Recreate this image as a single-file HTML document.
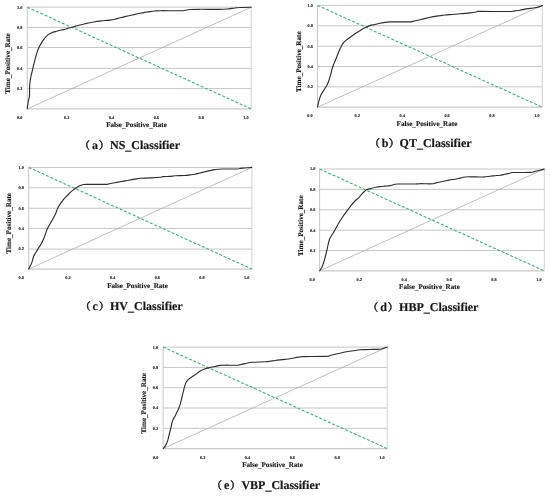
<!DOCTYPE html>
<html><head><meta charset="utf-8"><style>
html,body{margin:0;padding:0;background:#fff;}
svg{display:block;}
text{font-family:"Liberation Serif","Noto Serif CJK SC",serif;font-weight:bold;fill:#1a1a1a;text-rendering:geometricPrecision;}
.tk{font-size:4.3px;text-anchor:middle;fill:#111;stroke:#111;stroke-width:0.08px;}
.at{font-size:7.1px;stroke:#1a1a1a;stroke-width:0.15px;}
.cap{font-size:12px;stroke:#1a1a1a;stroke-width:0.2px;}
.cj{font-family:"Liberation Serif","Noto Serif CJK SC",serif;font-weight:bold;font-size:10.5px;stroke:#1a1a1a;stroke-width:0.35px;}
</style></head><body>
<svg width="550" height="496" viewBox="0 0 550 496">
<rect width="550" height="496" fill="#fff"/>
<line x1="27.3" y1="108.90" x2="251.2" y2="108.90" stroke="#cacaca" stroke-width="1.2"/>
<line x1="27.3" y1="88.60" x2="251.2" y2="88.60" stroke="#c6c6c6" stroke-width="1"/>
<line x1="27.3" y1="68.35" x2="251.2" y2="68.35" stroke="#c6c6c6" stroke-width="1"/>
<line x1="27.3" y1="47.55" x2="251.2" y2="47.55" stroke="#c6c6c6" stroke-width="1"/>
<line x1="27.3" y1="27.40" x2="251.2" y2="27.40" stroke="#c6c6c6" stroke-width="1"/>
<line x1="27.3" y1="7.15" x2="251.2" y2="7.15" stroke="#c6c6c6" stroke-width="1"/>
<line x1="27.3" y1="7.2" x2="27.3" y2="108.9" stroke="#c8c8c8" stroke-width="1"/>
<line x1="251.2" y1="7.2" x2="251.2" y2="108.9" stroke="#d2d2d2" stroke-width="1"/>
<line x1="27.3" y1="108.9" x2="251.2" y2="7.2" stroke="#b0b0b0" stroke-width="0.8"/>
<line x1="27.3" y1="7.2" x2="251.2" y2="108.9" stroke="#36b574" stroke-width="1.1" stroke-dasharray="2.96 1.8"/>
<path d="M27.20,108.70 C27.42,107.33 28.13,102.45 28.50,100.50 C28.87,98.55 29.22,98.25 29.40,97.00 C29.58,95.75 29.58,94.47 29.60,93.00 C29.62,91.53 29.50,89.87 29.55,88.20 C29.60,86.53 29.74,84.57 29.90,83.00 C30.06,81.43 30.28,80.12 30.50,78.80 C30.72,77.48 30.90,76.42 31.20,75.10 C31.50,73.78 31.98,72.22 32.30,70.90 C32.62,69.58 32.75,68.68 33.10,67.20 C33.45,65.72 33.98,63.65 34.40,62.00 C34.82,60.35 35.12,59.03 35.60,57.30 C36.08,55.57 36.68,53.35 37.30,51.60 C37.92,49.85 38.50,48.42 39.30,46.80 C40.10,45.18 41.17,43.38 42.10,41.90 C43.03,40.42 43.97,39.03 44.90,37.90 C45.83,36.77 46.55,35.97 47.70,35.10 C48.85,34.23 50.32,33.33 51.80,32.70 C53.28,32.07 54.98,31.75 56.60,31.30 C58.22,30.85 60.10,30.35 61.50,30.00 C62.90,29.65 63.58,29.58 65.00,29.20 C66.42,28.82 68.33,28.17 70.00,27.70 C71.67,27.23 73.33,26.85 75.00,26.40 C76.67,25.95 78.33,25.43 80.00,25.00 C81.67,24.57 83.33,24.18 85.00,23.80 C86.67,23.42 88.33,23.03 90.00,22.70 C91.67,22.37 93.33,22.07 95.00,21.80 C96.67,21.53 98.33,21.32 100.00,21.10 C101.67,20.88 103.33,20.67 105.00,20.50 C106.67,20.33 108.33,20.32 110.00,20.10 C111.67,19.88 113.33,19.58 115.00,19.20 C116.67,18.82 118.33,18.23 120.00,17.80 C121.67,17.37 123.33,16.98 125.00,16.60 C126.67,16.22 128.33,15.87 130.00,15.50 C131.67,15.13 133.33,14.77 135.00,14.40 C136.67,14.03 138.33,13.63 140.00,13.30 C141.67,12.97 143.33,12.68 145.00,12.40 C146.67,12.12 148.33,11.83 150.00,11.60 C151.67,11.37 153.33,11.15 155.00,11.00 C156.67,10.85 155.83,10.75 160.00,10.70 C164.17,10.65 175.83,10.77 180.00,10.70 C184.17,10.63 183.33,10.50 185.00,10.30 C186.67,10.10 187.50,9.67 190.00,9.50 C192.50,9.33 195.00,9.33 200.00,9.30 C205.00,9.27 215.50,9.35 220.00,9.30 C224.50,9.25 224.50,9.22 227.00,9.00 C229.50,8.78 232.83,8.25 235.00,8.00 C237.17,7.75 237.30,7.63 240.00,7.50 C242.70,7.37 249.33,7.25 251.20,7.20" fill="none" stroke="#2e2e2e" stroke-width="1.15" stroke-linejoin="round" stroke-linecap="round"/>
<text x="19.70" y="90.01" class="tk">0.2</text>
<text x="19.70" y="69.67" class="tk">0.4</text>
<text x="19.70" y="49.33" class="tk">0.6</text>
<text x="19.70" y="28.99" class="tk">0.8</text>
<text x="19.70" y="8.65" class="tk">1.0</text>
<text x="19.80" y="118.85" class="tk">0.0</text>
<text x="66.78" y="118.85" class="tk">0.2</text>
<text x="111.56" y="118.85" class="tk">0.4</text>
<text x="156.34" y="118.85" class="tk">0.6</text>
<text x="201.12" y="118.85" class="tk">0.8</text>
<text x="245.90" y="118.85" class="tk">1.0</text>
<text transform="translate(9.80,93.80) rotate(-90)" class="at">Time<tspan dy="0.9">_</tspan><tspan dy="-0.9">Positive</tspan><tspan dy="0.9">_</tspan><tspan dy="-0.9">Rate</tspan></text>
<text x="106.20" y="127.0" class="at">False<tspan dy="0.9">_</tspan><tspan dy="-0.9">Positive</tspan><tspan dy="0.9">_</tspan><tspan dy="-0.9">Rate</tspan></text>
<text x="79.58" y="149.0" class="cj">（</text>
<text x="92.00" y="149.0" class="cap">a</text>
<text x="98.67" y="149.0" class="cj">）</text>
<text x="110.00" y="149.0" class="cap">NS<tspan dy="1.1">_</tspan><tspan dy="-1.1">Classifier</tspan></text>
<line x1="317.5" y1="107.20" x2="542.3" y2="107.20" stroke="#cacaca" stroke-width="1.2"/>
<line x1="317.5" y1="86.84" x2="542.3" y2="86.84" stroke="#c6c6c6" stroke-width="1"/>
<line x1="317.5" y1="66.48" x2="542.3" y2="66.48" stroke="#c6c6c6" stroke-width="1"/>
<line x1="317.5" y1="46.12" x2="542.3" y2="46.12" stroke="#c6c6c6" stroke-width="1"/>
<line x1="317.5" y1="25.76" x2="542.3" y2="25.76" stroke="#c6c6c6" stroke-width="1"/>
<line x1="317.5" y1="5.40" x2="542.3" y2="5.40" stroke="#c6c6c6" stroke-width="1"/>
<line x1="317.5" y1="5.4" x2="317.5" y2="107.2" stroke="#c8c8c8" stroke-width="1"/>
<line x1="542.3" y1="5.4" x2="542.3" y2="107.2" stroke="#d2d2d2" stroke-width="1"/>
<line x1="317.5" y1="107.2" x2="542.3" y2="5.4" stroke="#b0b0b0" stroke-width="0.8"/>
<line x1="317.5" y1="5.4" x2="542.3" y2="107.2" stroke="#36b574" stroke-width="1.1" stroke-dasharray="2.96 1.8"/>
<path d="M317.40,107.10 C317.57,106.43 318.05,104.45 318.40,103.10 C318.75,101.75 319.08,100.35 319.50,99.00 C319.92,97.65 320.33,96.20 320.90,95.00 C321.47,93.80 322.23,92.88 322.90,91.80 C323.57,90.72 324.23,89.58 324.90,88.50 C325.57,87.42 326.23,86.63 326.90,85.30 C327.57,83.97 328.30,82.18 328.90,80.50 C329.50,78.82 329.95,77.20 330.50,75.20 C331.05,73.20 331.68,70.28 332.20,68.50 C332.72,66.72 332.98,66.08 333.60,64.50 C334.22,62.92 335.22,60.67 335.90,59.00 C336.58,57.33 337.10,56.00 337.70,54.50 C338.30,53.00 338.90,51.37 339.50,50.00 C340.10,48.63 340.62,47.52 341.30,46.30 C341.98,45.08 342.83,43.68 343.60,42.70 C344.37,41.72 344.92,41.23 345.90,40.40 C346.88,39.57 347.98,38.80 349.50,37.70 C351.02,36.60 353.25,34.97 355.00,33.80 C356.75,32.63 358.33,31.72 360.00,30.70 C361.67,29.68 363.33,28.55 365.00,27.70 C366.67,26.85 368.33,26.13 370.00,25.60 C371.67,25.07 373.33,24.90 375.00,24.50 C376.67,24.10 378.33,23.55 380.00,23.20 C381.67,22.85 383.33,22.62 385.00,22.40 C386.67,22.18 388.33,21.98 390.00,21.90 C391.67,21.82 391.83,21.90 395.00,21.90 C398.17,21.90 406.00,21.98 409.00,21.90 C412.00,21.82 411.17,21.77 413.00,21.40 C414.83,21.03 418.00,20.18 420.00,19.70 C422.00,19.22 423.33,18.90 425.00,18.50 C426.67,18.10 428.33,17.65 430.00,17.30 C431.67,16.95 433.33,16.67 435.00,16.40 C436.67,16.13 438.33,15.93 440.00,15.70 C441.67,15.47 443.33,15.18 445.00,15.00 C446.67,14.82 448.33,14.72 450.00,14.60 C451.67,14.48 453.33,14.43 455.00,14.30 C456.67,14.17 458.33,13.95 460.00,13.80 C461.67,13.65 463.33,13.55 465.00,13.40 C466.67,13.25 468.33,13.10 470.00,12.90 C471.67,12.70 473.67,12.43 475.00,12.20 C476.33,11.97 477.17,11.63 478.00,11.50 C478.83,11.37 475.00,11.40 480.00,11.40 C485.00,11.40 502.67,11.52 508.00,11.50 C513.33,11.48 510.83,11.40 512.00,11.30 C513.17,11.20 513.67,11.08 515.00,10.90 C516.33,10.72 518.33,10.50 520.00,10.20 C521.67,9.90 523.33,9.40 525.00,9.10 C526.67,8.80 528.33,8.63 530.00,8.40 C531.67,8.17 533.33,8.00 535.00,7.70 C536.67,7.40 538.78,6.95 540.00,6.60 C541.22,6.25 541.92,5.77 542.30,5.60" fill="none" stroke="#2e2e2e" stroke-width="1.15" stroke-linejoin="round" stroke-linecap="round"/>
<text x="310.30" y="88.29" class="tk">0.2</text>
<text x="310.30" y="67.93" class="tk">0.4</text>
<text x="310.30" y="47.57" class="tk">0.6</text>
<text x="310.30" y="27.21" class="tk">0.8</text>
<text x="310.30" y="6.85" class="tk">1.0</text>
<text x="310.00" y="117.15" class="tk">0.0</text>
<text x="357.16" y="117.15" class="tk">0.2</text>
<text x="402.12" y="117.15" class="tk">0.4</text>
<text x="447.08" y="117.15" class="tk">0.6</text>
<text x="492.04" y="117.15" class="tk">0.8</text>
<text x="537.00" y="117.15" class="tk">1.0</text>
<text transform="translate(300.80,92.00) rotate(-90)" class="at">Time<tspan dy="0.9">_</tspan><tspan dy="-0.9">Positive</tspan><tspan dy="0.9">_</tspan><tspan dy="-0.9">Rate</tspan></text>
<text x="396.60" y="125.7" class="at">False<tspan dy="0.9">_</tspan><tspan dy="-0.9">Positive</tspan><tspan dy="0.9">_</tspan><tspan dy="-0.9">Rate</tspan></text>
<text x="369.38" y="147.3" class="cj">（</text>
<text x="381.80" y="147.3" class="cap">b</text>
<text x="388.67" y="147.3" class="cj">）</text>
<text x="399.60" y="147.3" class="cap">QT<tspan dy="1.1">_</tspan><tspan dy="-1.1">Classifier</tspan></text>
<line x1="28.7" y1="269.15" x2="251.9" y2="269.15" stroke="#cacaca" stroke-width="1.2"/>
<line x1="28.7" y1="249.10" x2="251.9" y2="249.10" stroke="#c6c6c6" stroke-width="1"/>
<line x1="28.7" y1="228.40" x2="251.9" y2="228.40" stroke="#c6c6c6" stroke-width="1"/>
<line x1="28.7" y1="208.25" x2="251.9" y2="208.25" stroke="#c6c6c6" stroke-width="1"/>
<line x1="28.7" y1="187.75" x2="251.9" y2="187.75" stroke="#c6c6c6" stroke-width="1"/>
<line x1="28.7" y1="167.40" x2="251.9" y2="167.40" stroke="#c6c6c6" stroke-width="1"/>
<line x1="28.7" y1="167.4" x2="28.7" y2="269.1" stroke="#c8c8c8" stroke-width="1"/>
<line x1="251.9" y1="167.4" x2="251.9" y2="269.1" stroke="#d2d2d2" stroke-width="1"/>
<line x1="28.7" y1="269.1" x2="251.9" y2="167.4" stroke="#b0b0b0" stroke-width="0.8"/>
<line x1="28.7" y1="167.4" x2="251.9" y2="269.1" stroke="#36b574" stroke-width="1.1" stroke-dasharray="2.96 1.8"/>
<path d="M28.70,269.00 C28.95,268.50 29.68,267.07 30.20,266.00 C30.72,264.93 31.37,263.73 31.80,262.60 C32.23,261.47 32.50,260.25 32.80,259.20 C33.10,258.15 33.32,257.07 33.60,256.30 C33.88,255.53 34.00,255.45 34.50,254.60 C35.00,253.75 35.90,252.33 36.60,251.20 C37.30,250.07 37.92,249.07 38.70,247.80 C39.48,246.53 40.52,245.02 41.30,243.60 C42.08,242.18 42.77,240.72 43.40,239.30 C44.03,237.88 44.45,236.85 45.10,235.10 C45.75,233.35 46.37,230.87 47.30,228.80 C48.23,226.73 49.50,224.83 50.70,222.70 C51.90,220.57 53.58,217.75 54.50,216.00 C55.42,214.25 55.63,213.58 56.20,212.20 C56.77,210.82 57.17,209.18 57.90,207.70 C58.63,206.22 59.58,204.78 60.60,203.30 C61.62,201.82 62.88,200.10 64.00,198.80 C65.12,197.50 66.10,196.70 67.30,195.50 C68.50,194.30 69.82,192.80 71.20,191.60 C72.58,190.40 74.22,189.28 75.60,188.30 C76.98,187.32 78.30,186.30 79.50,185.70 C80.70,185.10 81.63,184.92 82.80,184.70 C83.97,184.47 82.80,184.40 86.50,184.35 C90.20,184.30 101.42,184.44 105.00,184.40 C108.58,184.36 106.33,184.38 108.00,184.10 C109.67,183.82 113.00,183.08 115.00,182.70 C117.00,182.32 118.33,182.10 120.00,181.80 C121.67,181.50 123.33,181.20 125.00,180.90 C126.67,180.60 128.33,180.30 130.00,180.00 C131.67,179.70 133.33,179.38 135.00,179.10 C136.67,178.82 137.50,178.50 140.00,178.30 C142.50,178.10 146.67,178.07 150.00,177.90 C153.33,177.73 157.83,177.52 160.00,177.30 C162.17,177.08 161.33,176.75 163.00,176.60 C164.67,176.45 168.00,176.53 170.00,176.40 C172.00,176.27 172.50,175.95 175.00,175.80 C177.50,175.65 182.50,175.65 185.00,175.50 C187.50,175.35 188.33,175.12 190.00,174.90 C191.67,174.68 193.33,174.52 195.00,174.20 C196.67,173.88 198.33,173.40 200.00,173.00 C201.67,172.60 203.33,172.20 205.00,171.80 C206.67,171.40 208.33,170.97 210.00,170.60 C211.67,170.23 213.00,169.87 215.00,169.60 C217.00,169.33 218.33,169.10 222.00,169.00 C225.67,168.90 234.00,169.10 237.00,169.00 C240.00,168.90 238.67,168.57 240.00,168.40 C241.33,168.23 243.05,168.17 245.00,168.00 C246.95,167.83 250.58,167.50 251.70,167.40" fill="none" stroke="#2e2e2e" stroke-width="1.15" stroke-linejoin="round" stroke-linecap="round"/>
<text x="21.10" y="250.21" class="tk">0.2</text>
<text x="21.10" y="229.87" class="tk">0.4</text>
<text x="21.10" y="209.53" class="tk">0.6</text>
<text x="21.10" y="189.19" class="tk">0.8</text>
<text x="21.10" y="168.85" class="tk">1.0</text>
<text x="21.20" y="279.05" class="tk">0.0</text>
<text x="68.04" y="279.05" class="tk">0.2</text>
<text x="112.68" y="279.05" class="tk">0.4</text>
<text x="157.32" y="279.05" class="tk">0.6</text>
<text x="201.96" y="279.05" class="tk">0.8</text>
<text x="246.60" y="279.05" class="tk">1.0</text>
<text transform="translate(11.30,253.60) rotate(-90)" class="at">Time<tspan dy="0.9">_</tspan><tspan dy="-0.9">Positive</tspan><tspan dy="0.9">_</tspan><tspan dy="-0.9">Rate</tspan></text>
<text x="107.20" y="288.1" class="at">False<tspan dy="0.9">_</tspan><tspan dy="-0.9">Positive</tspan><tspan dy="0.9">_</tspan><tspan dy="-0.9">Rate</tspan></text>
<text x="80.28" y="309.6" class="cj">（</text>
<text x="92.40" y="309.6" class="cap">c</text>
<text x="98.67" y="309.6" class="cj">）</text>
<text x="110.00" y="309.6" class="cap">HV<tspan dy="1.1">_</tspan><tspan dy="-1.1">Classifier</tspan></text>
<line x1="319.6" y1="270.90" x2="544.3" y2="270.90" stroke="#cacaca" stroke-width="1.2"/>
<line x1="319.6" y1="250.52" x2="544.3" y2="250.52" stroke="#c6c6c6" stroke-width="1"/>
<line x1="319.6" y1="230.14" x2="544.3" y2="230.14" stroke="#c6c6c6" stroke-width="1"/>
<line x1="319.6" y1="209.76" x2="544.3" y2="209.76" stroke="#c6c6c6" stroke-width="1"/>
<line x1="319.6" y1="189.38" x2="544.3" y2="189.38" stroke="#c6c6c6" stroke-width="1"/>
<line x1="319.6" y1="169.00" x2="544.3" y2="169.00" stroke="#c6c6c6" stroke-width="1"/>
<line x1="319.6" y1="169.0" x2="319.6" y2="270.9" stroke="#c8c8c8" stroke-width="1"/>
<line x1="544.3" y1="169.0" x2="544.3" y2="270.9" stroke="#d2d2d2" stroke-width="1"/>
<line x1="319.6" y1="270.9" x2="544.3" y2="169.0" stroke="#b0b0b0" stroke-width="0.8"/>
<line x1="319.6" y1="169.0" x2="544.3" y2="270.9" stroke="#36b574" stroke-width="1.1" stroke-dasharray="2.96 1.8"/>
<path d="M319.70,270.80 C320.08,270.17 321.38,268.25 322.00,267.00 C322.62,265.75 322.93,264.70 323.40,263.30 C323.87,261.90 324.33,260.32 324.80,258.60 C325.27,256.88 325.82,254.55 326.20,253.00 C326.58,251.45 326.78,250.68 327.10,249.30 C327.42,247.92 327.78,246.08 328.10,244.70 C328.42,243.32 328.70,242.08 329.00,241.00 C329.30,239.92 329.37,239.28 329.90,238.20 C330.43,237.12 331.43,235.73 332.20,234.50 C332.97,233.27 333.50,232.55 334.50,230.80 C335.50,229.05 336.88,226.27 338.20,224.00 C339.52,221.73 341.00,219.30 342.40,217.20 C343.80,215.10 345.63,212.70 346.60,211.40 C347.57,210.10 347.42,210.43 348.20,209.40 C348.98,208.37 350.17,206.60 351.30,205.20 C352.43,203.80 353.87,202.15 355.00,201.00 C356.13,199.85 357.05,199.35 358.10,198.30 C359.15,197.25 360.25,195.83 361.30,194.70 C362.35,193.57 363.45,192.35 364.40,191.50 C365.35,190.65 365.95,190.08 367.00,189.60 C368.05,189.12 369.22,188.98 370.70,188.60 C372.18,188.22 374.33,187.63 375.90,187.30 C377.47,186.97 378.58,186.80 380.10,186.60 C381.62,186.40 383.35,186.27 385.00,186.10 C386.65,185.93 388.33,185.92 390.00,185.60 C391.67,185.28 393.33,184.47 395.00,184.20 C396.67,183.93 396.67,184.03 400.00,184.00 C403.33,183.97 411.67,184.05 415.00,184.00 C418.33,183.95 417.17,183.73 420.00,183.70 C422.83,183.67 429.50,183.90 432.00,183.80 C434.50,183.70 433.67,183.40 435.00,183.10 C436.33,182.80 438.33,182.35 440.00,182.00 C441.67,181.65 443.33,181.35 445.00,181.00 C446.67,180.65 448.33,180.20 450.00,179.90 C451.67,179.60 453.33,179.50 455.00,179.20 C456.67,178.90 458.33,178.47 460.00,178.10 C461.67,177.73 463.33,177.22 465.00,177.00 C466.67,176.78 467.50,176.80 470.00,176.80 C472.50,176.80 477.50,177.00 480.00,177.00 C482.50,177.00 483.33,176.93 485.00,176.80 C486.67,176.67 488.33,176.38 490.00,176.20 C491.67,176.02 493.33,175.87 495.00,175.70 C496.67,175.53 498.33,175.45 500.00,175.20 C501.67,174.95 503.33,174.53 505.00,174.20 C506.67,173.87 508.67,173.48 510.00,173.20 C511.33,172.92 509.67,172.63 513.00,172.50 C516.33,172.37 526.33,172.58 530.00,172.40 C533.67,172.22 533.33,171.75 535.00,171.40 C536.67,171.05 538.47,170.68 540.00,170.30 C541.53,169.92 543.50,169.30 544.20,169.10" fill="none" stroke="#2e2e2e" stroke-width="1.15" stroke-linejoin="round" stroke-linecap="round"/>
<text x="312.60" y="251.97" class="tk">0.2</text>
<text x="312.60" y="231.59" class="tk">0.4</text>
<text x="312.60" y="211.21" class="tk">0.6</text>
<text x="312.60" y="190.83" class="tk">0.8</text>
<text x="312.60" y="170.45" class="tk">1.0</text>
<text x="312.10" y="280.85" class="tk">0.0</text>
<text x="359.24" y="280.85" class="tk">0.2</text>
<text x="404.18" y="280.85" class="tk">0.4</text>
<text x="449.12" y="280.85" class="tk">0.6</text>
<text x="494.06" y="280.85" class="tk">0.8</text>
<text x="539.00" y="280.85" class="tk">1.0</text>
<text transform="translate(303.30,256.00) rotate(-90)" class="at">Time<tspan dy="0.9">_</tspan><tspan dy="-0.9">Positive</tspan><tspan dy="0.9">_</tspan><tspan dy="-0.9">Rate</tspan></text>
<text x="399.10" y="289.4" class="at">False<tspan dy="0.9">_</tspan><tspan dy="-0.9">Positive</tspan><tspan dy="0.9">_</tspan><tspan dy="-0.9">Rate</tspan></text>
<text x="367.78" y="311.0" class="cj">（</text>
<text x="380.20" y="311.0" class="cap">d</text>
<text x="387.67" y="311.0" class="cj">）</text>
<text x="399.10" y="311.0" class="cap">HBP<tspan dy="1.1">_</tspan><tspan dy="-1.1">Classifier</tspan></text>
<line x1="163.1" y1="448.60" x2="387.3" y2="448.60" stroke="#cacaca" stroke-width="1.2"/>
<line x1="163.1" y1="428.30" x2="387.3" y2="428.30" stroke="#c6c6c6" stroke-width="1"/>
<line x1="163.1" y1="408.00" x2="387.3" y2="408.00" stroke="#c6c6c6" stroke-width="1"/>
<line x1="163.1" y1="387.70" x2="387.3" y2="387.70" stroke="#c6c6c6" stroke-width="1"/>
<line x1="163.1" y1="367.40" x2="387.3" y2="367.40" stroke="#c6c6c6" stroke-width="1"/>
<line x1="163.1" y1="347.10" x2="387.3" y2="347.10" stroke="#c6c6c6" stroke-width="1"/>
<line x1="163.1" y1="347.1" x2="163.1" y2="448.6" stroke="#c8c8c8" stroke-width="1"/>
<line x1="387.3" y1="347.1" x2="387.3" y2="448.6" stroke="#d2d2d2" stroke-width="1"/>
<line x1="163.1" y1="448.6" x2="387.3" y2="347.1" stroke="#b0b0b0" stroke-width="0.8"/>
<line x1="163.1" y1="347.1" x2="387.3" y2="448.6" stroke="#36b574" stroke-width="1.1" stroke-dasharray="2.96 1.8"/>
<path d="M163.30,448.50 C163.62,448.10 164.62,447.02 165.20,446.10 C165.78,445.18 166.35,444.05 166.80,443.00 C167.25,441.95 167.55,441.03 167.90,439.80 C168.25,438.57 168.52,437.17 168.90,435.60 C169.28,434.03 169.85,431.78 170.20,430.40 C170.55,429.02 170.68,428.62 171.00,427.30 C171.32,425.98 171.75,423.82 172.10,422.50 C172.45,421.18 172.58,420.53 173.10,419.40 C173.62,418.27 174.50,417.02 175.20,415.70 C175.90,414.38 176.68,412.80 177.30,411.50 C177.92,410.20 178.42,409.10 178.90,407.90 C179.38,406.70 179.72,405.98 180.20,404.30 C180.68,402.62 181.30,399.83 181.80,397.80 C182.30,395.77 182.73,394.00 183.20,392.10 C183.67,390.20 184.13,387.98 184.60,386.40 C185.07,384.82 185.45,383.70 186.00,382.60 C186.55,381.50 187.18,380.58 187.90,379.80 C188.62,379.02 189.27,378.62 190.30,377.90 C191.33,377.18 192.83,376.37 194.10,375.50 C195.37,374.63 196.63,373.57 197.90,372.70 C199.17,371.83 200.28,371.02 201.70,370.30 C203.12,369.58 204.83,368.90 206.40,368.40 C207.97,367.90 209.52,367.65 211.10,367.30 C212.68,366.95 214.47,366.62 215.90,366.30 C217.33,365.98 218.18,365.58 219.70,365.40 C221.22,365.22 222.12,365.23 225.00,365.20 C227.88,365.17 234.50,365.28 237.00,365.20 C239.50,365.12 238.67,364.97 240.00,364.70 C241.33,364.43 243.33,363.97 245.00,363.60 C246.67,363.23 248.33,362.73 250.00,362.50 C251.67,362.27 252.50,362.32 255.00,362.20 C257.50,362.08 262.50,361.95 265.00,361.80 C267.50,361.65 268.33,361.52 270.00,361.30 C271.67,361.08 273.33,360.73 275.00,360.50 C276.67,360.27 278.33,360.08 280.00,359.90 C281.67,359.72 283.33,359.58 285.00,359.40 C286.67,359.22 288.33,359.08 290.00,358.80 C291.67,358.52 293.33,358.00 295.00,357.70 C296.67,357.40 298.67,357.18 300.00,357.00 C301.33,356.82 298.67,356.70 303.00,356.60 C307.33,356.50 321.50,356.58 326.00,356.40 C330.50,356.22 328.50,355.85 330.00,355.50 C331.50,355.15 333.33,354.68 335.00,354.30 C336.67,353.92 338.33,353.58 340.00,353.20 C341.67,352.82 343.33,352.32 345.00,352.00 C346.67,351.68 348.33,351.55 350.00,351.30 C351.67,351.05 353.33,350.77 355.00,350.50 C356.67,350.23 357.50,349.87 360.00,349.70 C362.50,349.53 366.67,349.58 370.00,349.50 C373.33,349.42 377.67,349.45 380.00,349.20 C382.33,348.95 382.80,348.33 384.00,348.00 C385.20,347.67 386.67,347.33 387.20,347.20" fill="none" stroke="#2e2e2e" stroke-width="1.15" stroke-linejoin="round" stroke-linecap="round"/>
<text x="155.50" y="429.75" class="tk">0.2</text>
<text x="155.50" y="409.45" class="tk">0.4</text>
<text x="155.50" y="389.15" class="tk">0.6</text>
<text x="155.50" y="368.85" class="tk">0.8</text>
<text x="155.50" y="348.55" class="tk">1.0</text>
<text x="155.60" y="458.55" class="tk">0.0</text>
<text x="202.64" y="458.55" class="tk">0.2</text>
<text x="247.48" y="458.55" class="tk">0.4</text>
<text x="292.32" y="458.55" class="tk">0.6</text>
<text x="337.16" y="458.55" class="tk">0.8</text>
<text x="382.00" y="458.55" class="tk">1.0</text>
<text transform="translate(146.30,433.60) rotate(-90)" class="at">Time<tspan dy="0.9">_</tspan><tspan dy="-0.9">Positive</tspan><tspan dy="0.9">_</tspan><tspan dy="-0.9">Rate</tspan></text>
<text x="242.20" y="467.4" class="at">False<tspan dy="0.9">_</tspan><tspan dy="-0.9">Positive</tspan><tspan dy="0.9">_</tspan><tspan dy="-0.9">Rate</tspan></text>
<text x="211.58" y="489.2" class="cj">（</text>
<text x="224.00" y="489.2" class="cap">e</text>
<text x="230.07" y="489.2" class="cj">）</text>
<text x="241.40" y="489.2" class="cap">VBP<tspan dy="1.1">_</tspan><tspan dy="-1.1">Classifier</tspan></text>
</svg>
</body></html>
